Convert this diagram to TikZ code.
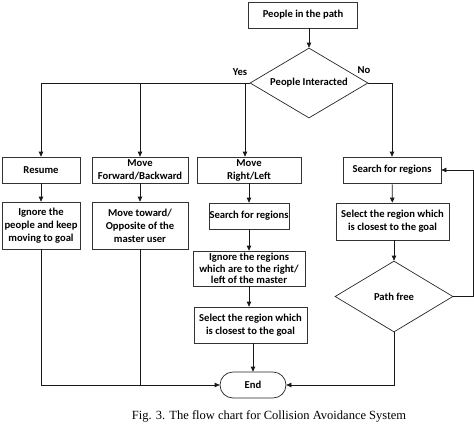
\documentclass[tikz,border=0pt]{standalone}
\usepackage{fontspec}
\setmainfont{Carlito}
\newfontfamily\capfont{Liberation Serif}
\usetikzlibrary{shapes.geometric,arrows.meta}
\begin{document}
\begin{tikzpicture}[x=1pt,y=-1pt,
  box/.style={draw=black!80, line width=0.7pt, inner sep=0pt, align=center,
    font=\fontsize{10.6}{13}\selectfont\bfseries},
  dia/.style={diamond, draw=black!85, line width=0.7pt, inner sep=0pt, aspect=1.7,
    font=\fontsize{10.6}{13}\selectfont\bfseries},
  term/.style={draw=black!85, line width=0.7pt, rounded corners=13pt, inner sep=0pt,
    font=\fontsize{10.6}{13}\selectfont\bfseries},
  lbl/.style={inner sep=0pt, font=\fontsize{10.6}{13}\selectfont\bfseries},
  arr/.style={-{Triangle[length=5pt,width=4.5pt]}, line width=0.7pt, draw=black!90},
  ln/.style={line width=0.7pt, draw=black!90}]
\useasboundingbox (0,0) rectangle (474,424);

\node[box, minimum width=109, minimum height=26] (p0) at (303,15) {People in the path};
\node[dia, minimum width=118, minimum height=70] (d1) at (309,83) {People Interacted};
\node[lbl] (yes) at (240,72) {Yes};
\node[lbl] (no) at (364,70) {No};

\node[box, minimum width=78, minimum height=26] (resume) at (41,170) {Resume};
\node[box, minimum width=78, minimum height=47] (ign) at (41,225.5) {Ignore the\\people and keep\\moving to goal};

\node[box, minimum width=96, minimum height=26] (mfb) at (140,170) {Move\\Forward/Backward};
\node[box, minimum width=96, minimum height=47] (mto) at (140,225.5) {Move toward/\\Opposite of the\\master user};

\node[box, minimum width=104, minimum height=26] (mrl) at (249,170) {Move\\Right/Left};
\node[box, minimum width=80, minimum height=26] (s1) at (249,216) {Search for regions};
\node[box, minimum width=112, minimum height=35, font=\fontsize{10.6}{11.8}\selectfont\bfseries] (ir) at (249,268.5) {Ignore the regions\\which are to the right/\\left of the master};
\node[box, minimum width=113, minimum height=36] (sel1) at (250.5,325) {Select the region which\\is closest to the goal};
\node[term, minimum width=66, minimum height=26] (end) at (253,385) {End};

\node[box, minimum width=98, minimum height=26] (s2) at (392,170) {Search for regions};
\node[box, minimum width=113, minimum height=37] (sel2) at (392.5,221.5) {Select the region which\\is closest to the goal};
\node[dia, minimum width=118, minimum height=71] (d2) at (394,296.5) {Path free};

\node[anchor=base, inner sep=0pt, font=\capfont\fontsize{12.5}{13}\selectfont] (cap) at (269,419.5) {Fig. 3. The flow chart for Collision Avoidance System};

% connectors
\draw[arr] (d1.north |- p0.south) -- (d1.north);
\draw[arr] (d1.west) -| (resume.north);
\draw[arr] (d1.west) -| (mfb.north);
\draw[arr] (d1.west) -| ([xshift=-4pt]mrl.north);
\draw[arr] (d1.east) -| (s2.north);

\draw[arr] (resume) -- (ign);
\draw[arr] (mfb) -- (mto);
\draw[arr] (mrl) -- (s1);
\draw[arr] (s1) -- (ir);
\draw[arr] (ir.south) -- (ir.south |- sel1.north);
\draw[arr] (sel1.south -| end.north) -- (end.north);

\draw[arr] (ign.south) |- (end.west);
\draw[ln] (mto.south) -- (mto.south |- end.west);

\draw[arr] (s2) -- (sel2);
\draw[arr] (sel2.south -| d2.north) -- (d2.north);
\draw[arr] (d2.south) |- (end.east);
\draw[arr] (d2.east) -- ++(20,0) |- (s2.east);
\end{tikzpicture}
\end{document}
